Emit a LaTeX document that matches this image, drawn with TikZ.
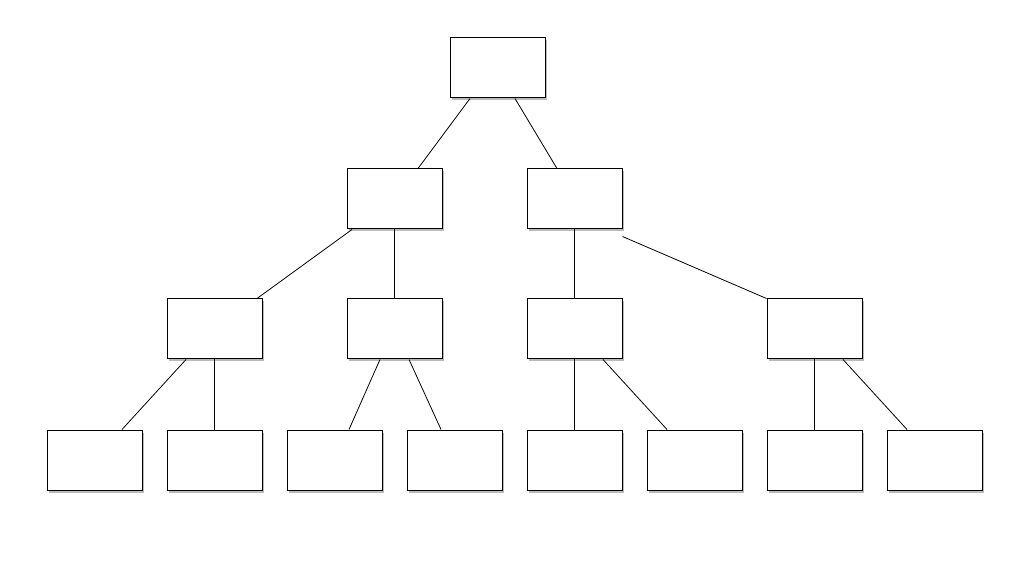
\documentclass[tikz,border=0pt]{standalone}
\usetikzlibrary{shadows}
\begin{document}
\begin{tikzpicture}[x=1pt,y=-1pt,
  bx/.style={draw=black,fill=white,line width=1pt,minimum width=95pt,minimum height=60pt,inner sep=0pt,
    general shadow={shadow xshift=1.5pt,shadow yshift=-2.5pt,fill=black!45,opacity=0.6}},
  ln/.style={line width=0.8pt}]
\useasboundingbox (0,0) rectangle (1026,585);
\node[bx] (r) at (497.5,68) {};
\node[bx] (a) at (394.5,199) {};
\node[bx] (b) at (574.5,199) {};
\node[bx] (c) at (214.5,329) {};
\node[bx] (d) at (394.5,329) {};
\node[bx] (e) at (574.5,329) {};
\node[bx] (f) at (814.5,329) {};
\foreach \n/\x in {l1/94.5,l2/214.5,l3/334.5,l4/454.5,l5/574.5,l6/694.5,l7/814.5,l8/934.5}
  \node[bx] (\n) at (\x,460) {};
\draw[ln] ([xshift=-27.5pt]r.south) -- ([xshift=23.5pt]a.north);
\draw[ln] ([xshift=17.5pt]r.south) -- ([xshift=-17.5pt]b.north);
\draw[ln] ([xshift=-42.5pt]a.south) -- ([xshift=42.5pt]c.north);
\draw[ln] (a.south) -- (d.north);
\draw[ln] (b.south) -- (e.north);
\draw[ln] ([yshift=-7pt]b.south east) -- (f.north west);
\draw[ln] ([xshift=-28.5pt]c.south) -- ([xshift=27.5pt]l1.north);
\draw[ln] (c.south) -- (l2.north);
\draw[ln] ([xshift=-14.5pt]d.south) -- ([xshift=14.5pt]l3.north);
\draw[ln] ([xshift=14.5pt]d.south) -- ([xshift=-13.5pt]l4.north);
\draw[ln] (e.south) -- (l5.north);
\draw[ln] ([xshift=28.5pt]e.south) -- ([xshift=-27.5pt]l6.north);
\draw[ln] (f.south) -- (l7.north);
\draw[ln] ([xshift=28.5pt]f.south) -- ([xshift=-27.5pt]l8.north);
\end{tikzpicture}
\end{document}
